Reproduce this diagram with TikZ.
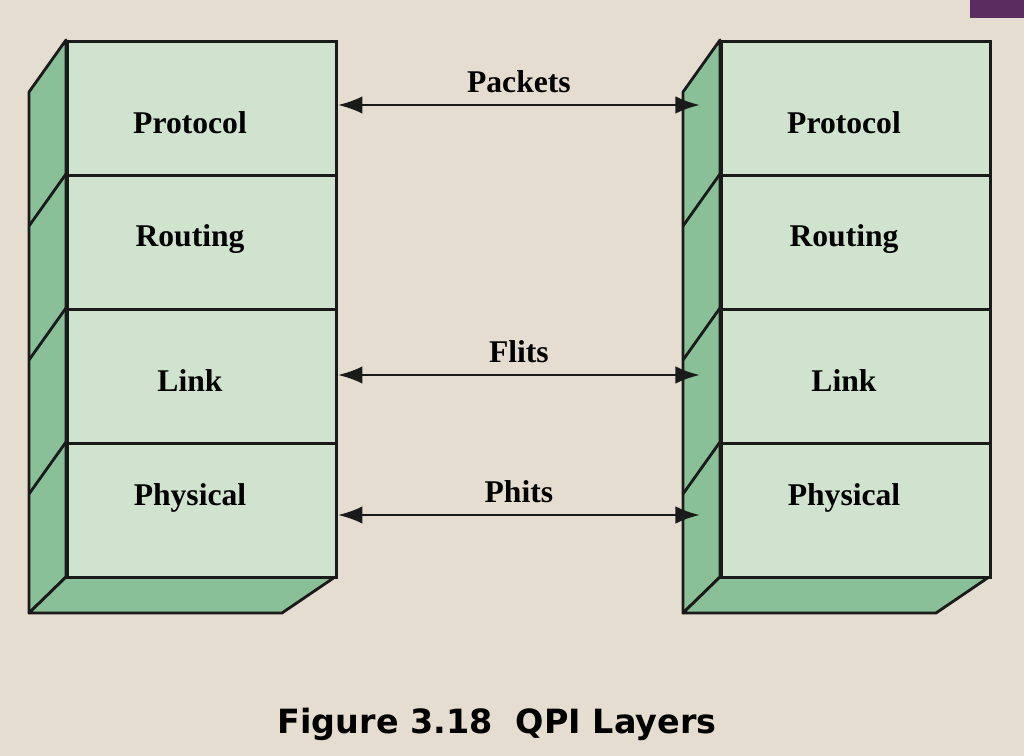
\documentclass[tikz,border=0pt]{standalone}
\usepackage{fontspec}
\setmainfont{Liberation Serif}
\newfontfamily\capfont{DejaVu Sans}
\usetikzlibrary{arrows.meta}
\definecolor{bg}{HTML}{E6DDD1}
\definecolor{front}{HTML}{D0E3CE}
\definecolor{side}{HTML}{8AC097}
\definecolor{edge}{HTML}{1A1A1A}
\definecolor{tabcol}{HTML}{5B2D5E}
\begin{document}
\begin{tikzpicture}[x=0.02cm,y=-0.02cm,
		layer/.style={draw=edge,fill=front,line width=1.6pt,minimum width=269*0.02cm,minimum height=134*0.02cm,anchor=north west,font=\fontsize{18}{20}\selectfont\bfseries},
		face/.style={draw=edge,fill=side,line width=1.6pt,line join=round},
		link/.style={{Latex[length=14pt,width=10pt]}-{Latex[length=14pt,width=10pt]},line width=1.6pt,draw=edge},
		lbl/.style={font=\fontsize{18}{20}\selectfont\bfseries}]
	%Background
	\fill[bg] (0,0) rectangle (1024,756);
	\fill[tabcol] (970,0) rectangle (1024,18);
	
	%Stacks
	\foreach \s/\x in {L/66,R/720}{
		\path[face] (\x,40) -- (\x-37,92) -- (\x-37,613) -- (\x,577) -- cycle;
		\path[face] (\x,577) -- (\x+269,577) -- (\x+216,613) -- (\x-37,613) -- cycle;
		\foreach \y in {174,308,442}
			\draw[edge,line width=1.6pt] (\x,\y) -- (\x-37,\y+52);
		\node[layer] (\s pro) at (\x,40) {};
		\node[layer] (\s rou) at (\x,174) {};
		\node[layer] (\s lin) at (\x,308) {};
		\node[layer] (\s phy) at (\x,442) {};
		\node[lbl] at (\x+124,123) {Protocol};
		\node[lbl] at (\x+124,239) {Routing};
		\node[lbl] at (\x+124,381) {Link};
		\node[lbl] at (\x+124,498) {Physical};
	}
	
	%Arrows
	\coordinate (pk) at (700,105);
	\coordinate (fl) at (700,375);
	\coordinate (ph) at (700,515);
	\draw[link] (Lpro.east |- pk) -- (pk) node[lbl,midway,above=3pt] {Packets};
	\draw[link] (Llin.east |- fl) -- (fl) node[lbl,midway,above=3pt] {Flits};
	\draw[link] (Lphy.east |- ph) -- (ph) node[lbl,midway,above=3pt] {Phits};
	
	%Title
	\node[font=\capfont\fontsize{19}{21}\selectfont\bfseries] (cap) at (497,724) {Figure 3.18\ \ QPI Layers};
\end{tikzpicture}
\end{document}
